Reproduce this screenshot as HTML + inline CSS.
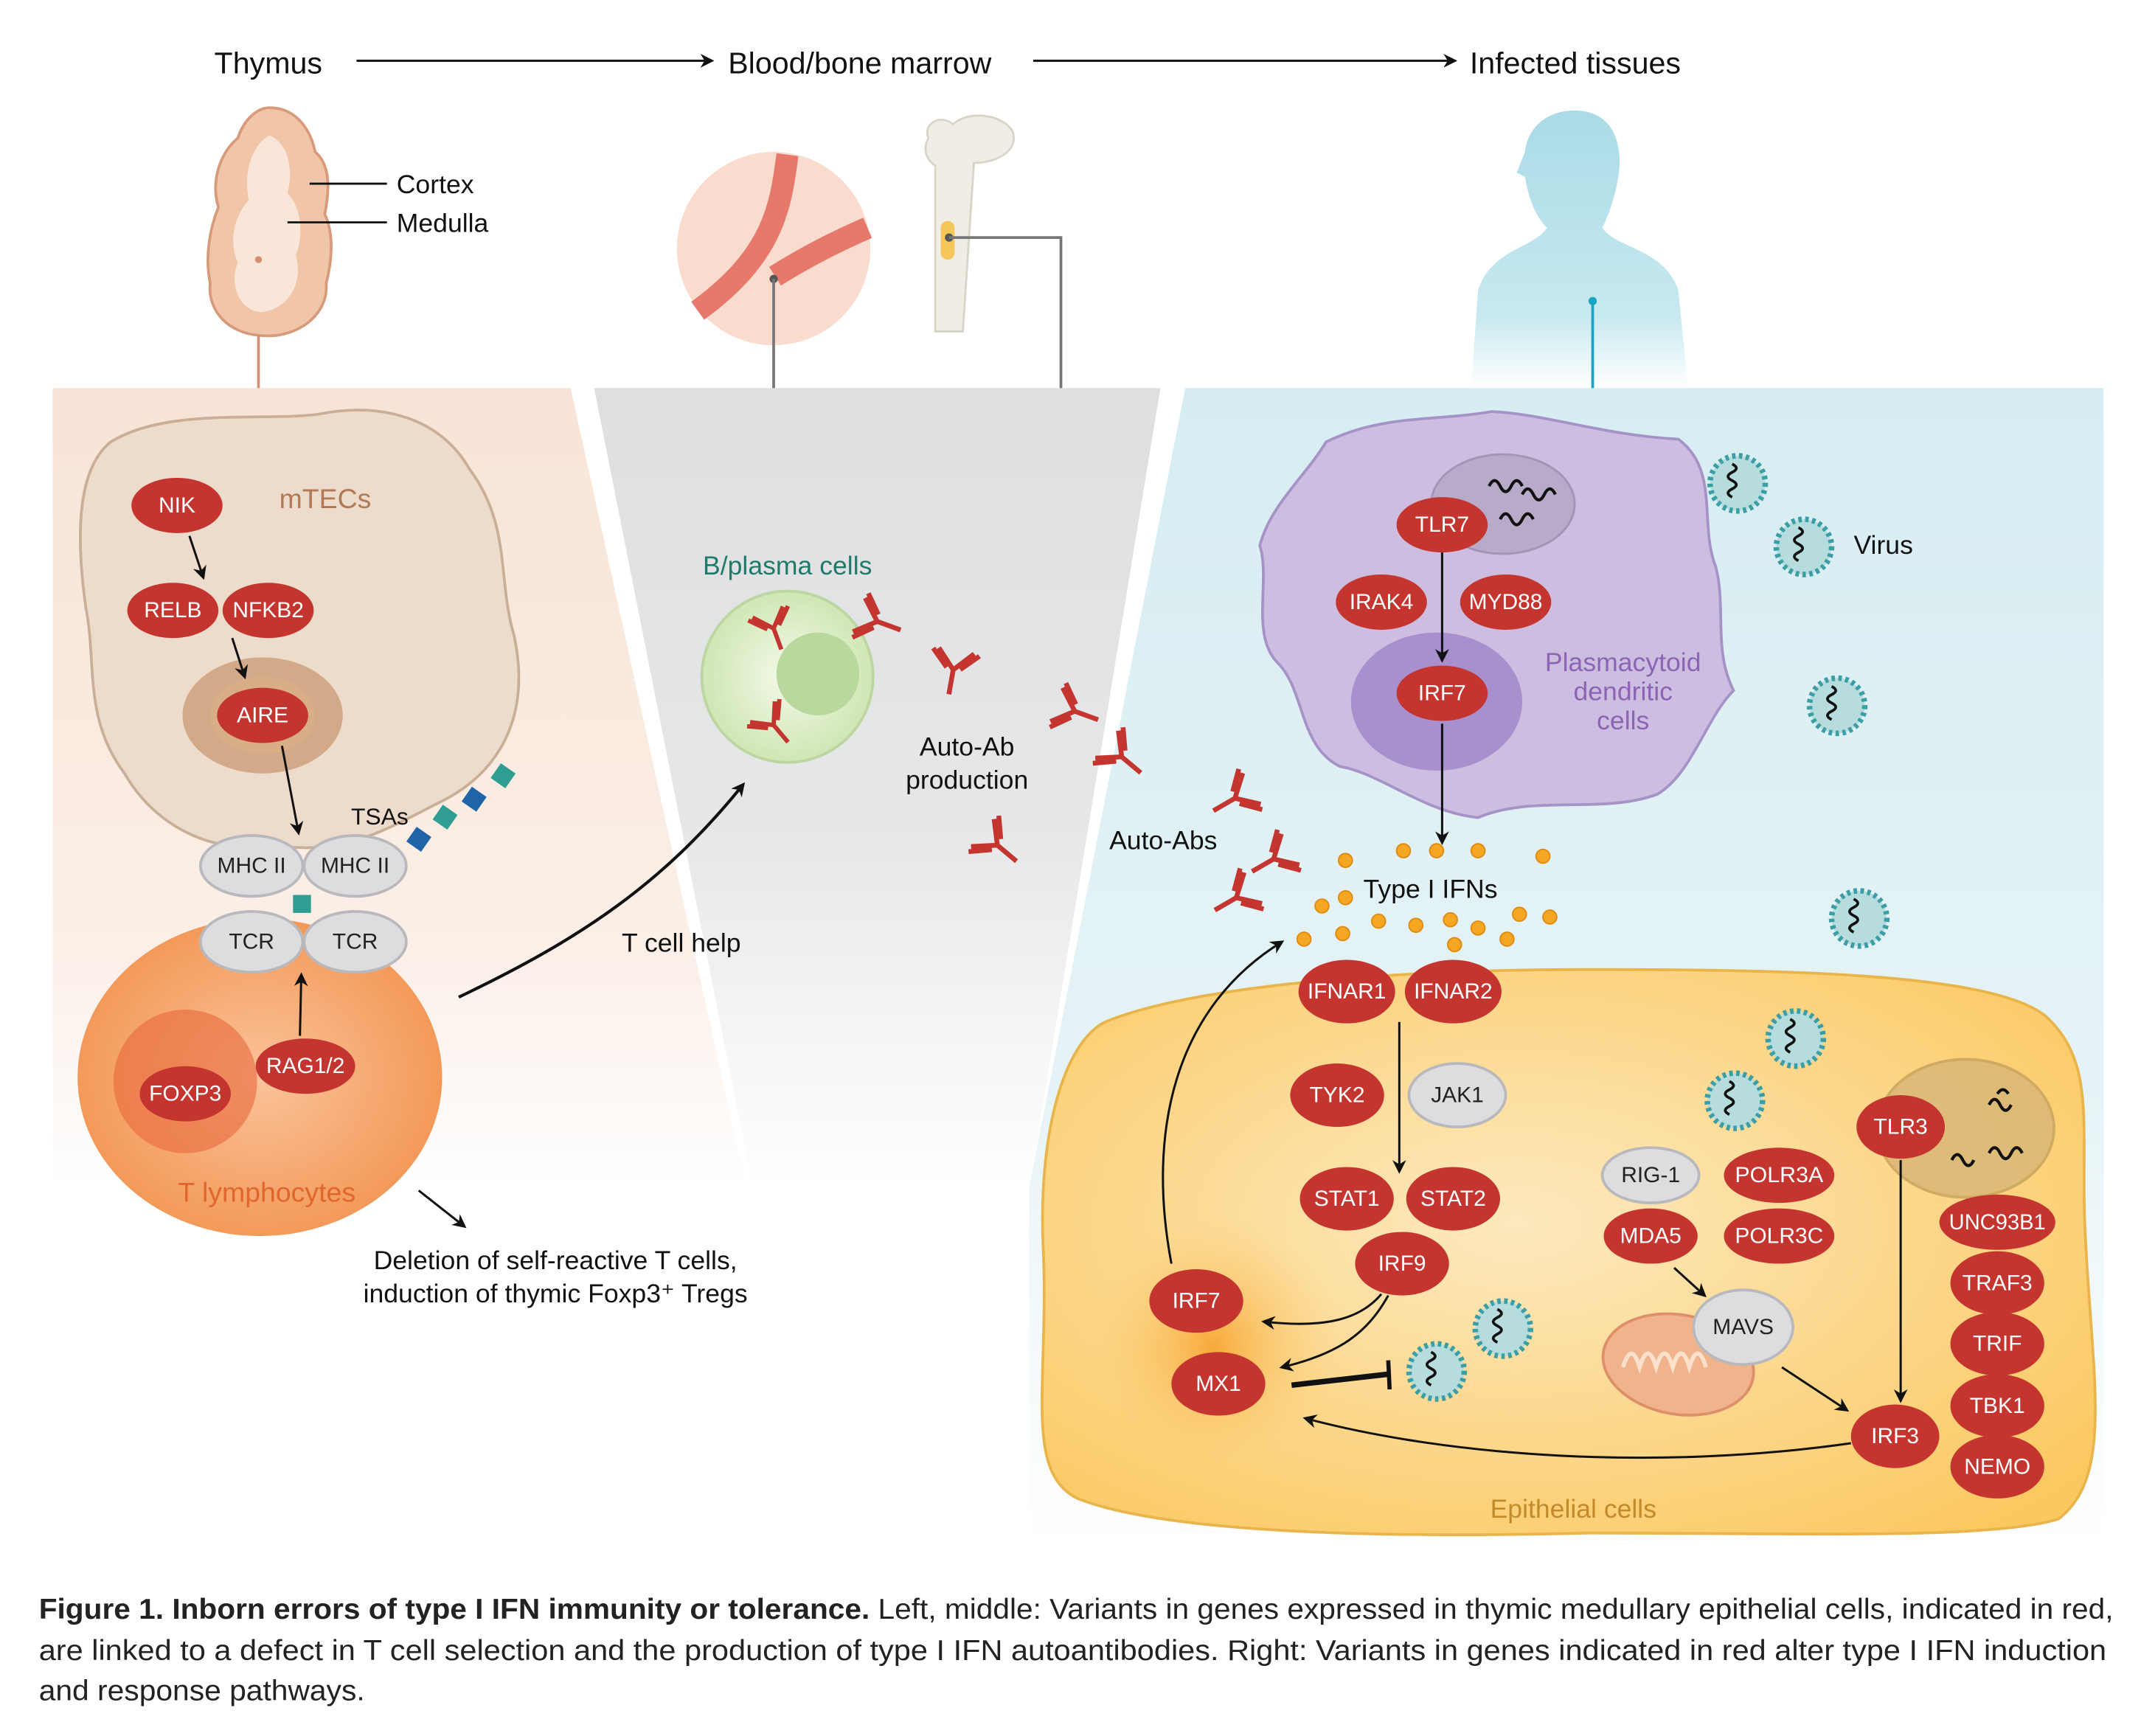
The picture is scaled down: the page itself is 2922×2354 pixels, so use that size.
<!DOCTYPE html>
<html><head><meta charset="utf-8"><style>
html,body{margin:0;padding:0;background:#fff}
svg{display:block}
text{font-family:"Liberation Sans",sans-serif}
.r{fill:#c4352f}
.g{fill:#dddde0;stroke:#b9b9bd;stroke-width:2}
.w{fill:#fff;font-size:16px;text-anchor:middle;dominant-baseline:central}
.k{fill:#222;font-size:16px;text-anchor:middle;dominant-baseline:central}
.ln{stroke:#111;stroke-width:1.6;fill:none}
</style></head><body>
<svg width="2922" height="2354" viewBox="0 0 1560 1257" xmlns="http://www.w3.org/2000/svg">
<defs>
<marker id="a" markerWidth="10" markerHeight="10" refX="8" refY="5" orient="auto" markerUnits="userSpaceOnUse"><path d="M0,0 L10,5 L0,10 L3,5z" fill="#111"/></marker>
<linearGradient id="lp" x1="0" y1="0" x2="0" y2="1"><stop offset="0" stop-color="#f7e4d6"/><stop offset="0.7" stop-color="#fbefe7"/><stop offset="1" stop-color="#fff"/></linearGradient>
<linearGradient id="mp" x1="0" y1="0" x2="0" y2="1"><stop offset="0" stop-color="#dedfe1"/><stop offset="0.55" stop-color="#e6e7e9"/><stop offset="1" stop-color="#fff"/></linearGradient>
<linearGradient id="rp" x1="0" y1="0" x2="0" y2="1"><stop offset="0" stop-color="#d6edf2"/><stop offset="0.6" stop-color="#e6f3f6"/><stop offset="1" stop-color="#fff"/></linearGradient>
<radialGradient id="ep" cx="0.45" cy="0.45" r="0.7"><stop offset="0" stop-color="#fde9bf"/><stop offset="1" stop-color="#fbc860"/></radialGradient>
<radialGradient id="tl" cx="0.5" cy="0.5" r="0.5"><stop offset="0" stop-color="#fbc39a"/><stop offset="1" stop-color="#f39a5a"/></radialGradient>
<radialGradient id="nu" cx="0.5" cy="0.5" r="0.5"><stop offset="0" stop-color="#f8a93a"/><stop offset="1" stop-color="#fbd27e" stop-opacity="0"/></radialGradient>
<radialGradient id="bc" cx="0.5" cy="0.5" r="0.5"><stop offset="0" stop-color="#f4fae9"/><stop offset="1" stop-color="#cfe6b4"/></radialGradient>
<linearGradient id="hb" x1="0" y1="0" x2="0" y2="1"><stop offset="0" stop-color="#a9dbe7"/><stop offset="0.75" stop-color="#c8e9f0"/><stop offset="1" stop-color="#fff"/></linearGradient>
<g id="ab"><path d="M0,0 L0,18 M0,0 L-13,-14 M0,0 L13,-14 M-5,-1 L-17,-13 M5,-1 L17,-13" stroke="#c4352f" stroke-width="3.5" fill="none"/></g>
<g id="vir"><circle r="20" fill="#b6dcdd" stroke="#3a9ea4" stroke-width="4" stroke-dasharray="2.5 2.5"/><path d="M-6,-10 q6,3 0,6 q-6,3 0,6 q6,3 0,6 q-6,3 0,6" stroke="#111" stroke-width="2" fill="none" transform="translate(2,-4)"/></g>
</defs>

<text x="155" y="53" font-size="22" fill="#111">Thymus</text>
<line x1="258" y1="44" x2="515" y2="44" class="ln" marker-end="url(#a)"/>
<text x="527" y="53" font-size="22" fill="#111">Blood/bone marrow</text>
<line x1="748" y1="44" x2="1053" y2="44" class="ln" marker-end="url(#a)"/>
<text x="1064" y="53" font-size="22" fill="#111">Infected tissues</text>

<path d="M38,281 L413,281 L540,860 L38,860 Z" fill="url(#lp)"/>
<path d="M430,281 L840,281 L745,860 L545,860 Z" fill="url(#mp)"/>
<path d="M858,281 L1523,281 L1523,1120 L745,1120 L745,860 Z" fill="url(#rp)"/>

<path d="M195,78 C215,78 225,95 228,110 C240,120 238,140 235,155 C242,170 240,190 236,205 C238,228 215,245 190,243 C165,242 150,225 152,205 C148,185 152,165 158,150 C152,130 160,110 172,100 C176,88 185,78 195,78Z" fill="#f1c6a8" stroke="#d79a7a" stroke-width="2"/>
<path d="M195,98 C210,105 212,125 208,140 C218,150 220,170 214,185 C220,205 208,225 188,226 C172,224 166,205 172,190 C165,175 170,155 180,145 C176,125 182,105 195,98Z" fill="#fae6d8"/>
<line x1="224" y1="133" x2="280" y2="133" stroke="#111" stroke-width="1.5"/>
<line x1="208" y1="161" x2="280" y2="161" stroke="#111" stroke-width="1.5"/>
<text x="287" y="140" font-size="19" fill="#111">Cortex</text>
<text x="287" y="168" font-size="19" fill="#111">Medulla</text>
<circle cx="187" cy="188" r="2.5" fill="#d49070"/>
<line x1="187" y1="243" x2="187" y2="281" stroke="#d49070" stroke-width="2"/>

<circle cx="560" cy="180" r="70" fill="#f9dccd"/>
<path d="M570,112 C565,150 560,185 505,225 M561,200 C585,185 605,175 628,165" stroke="#e6796c" stroke-width="16" fill="none"/>
<circle cx="560" cy="202" r="3" fill="#555"/>
<line x1="560" y1="202" x2="560" y2="281" stroke="#777" stroke-width="2"/>
<path d="M672,100 C668,90 680,82 690,90 C700,80 725,82 733,95 C738,110 720,118 705,118 L697,240 L677,240 L677,120 C670,115 668,108 672,100Z" fill="#efede4" stroke="#d8d5c8" stroke-width="1.5"/>
<rect x="681" y="160" width="10" height="28" rx="5" fill="#f5c65a"/>
<circle cx="687" cy="172" r="3" fill="#555"/>
<path d="M687,172 L768,172 L768,281" stroke="#777" stroke-width="2" fill="none"/>
<path d="M1140,80 C1165,80 1175,100 1172,125 C1170,140 1165,155 1160,165 C1170,180 1205,180 1215,210 L1222,280 L1065,280 L1070,210 C1080,180 1110,180 1120,165 C1110,155 1106,140 1104,128 L1098,125 L1104,110 C1106,92 1120,80 1140,80Z" fill="url(#hb)"/>
<circle cx="1153" cy="218" r="3" fill="#1aa6c0"/>
<line x1="1153" y1="218" x2="1153" y2="281" stroke="#1aa6c0" stroke-width="2"/>

<path d="M80,320 C120,295 190,305 230,300 C280,290 320,305 340,340 C370,380 360,420 372,460 C385,520 360,560 320,580 C280,600 250,620 200,612 C150,620 110,595 90,560 C60,520 70,480 62,440 C55,390 55,340 80,320Z" fill="#eddccb" stroke="#c9af98" stroke-width="2"/>
<ellipse cx="190" cy="518" rx="58" ry="42" fill="#c89a73" opacity="0.75"/>
<ellipse cx="190" cy="518" rx="38" ry="28" fill="#d8ae89"/>
<text x="202" y="368" font-size="20" fill="#b07a56">mTECs</text>
<ellipse cx="128" cy="366" rx="33" ry="20" class="r"/><text x="128" y="366" class="w">NIK</text>
<ellipse cx="125" cy="442" rx="33" ry="20" class="r"/><text x="125" y="442" class="w">RELB</text>
<ellipse cx="194" cy="442" rx="33" ry="20" class="r"/><text x="194" y="442" class="w">NFKB2</text>
<ellipse cx="190" cy="518" rx="33" ry="20" class="r"/><text x="190" y="518" class="w">AIRE</text>
<line x1="137" y1="388" x2="147" y2="418" class="ln" marker-end="url(#a)"/>
<line x1="168" y1="462" x2="177" y2="490" class="ln" marker-end="url(#a)"/>
<line x1="204" y1="540" x2="216" y2="603" class="ln" marker-end="url(#a)"/>
<text x="254" y="597" font-size="17" fill="#111">TSAs</text>
<g fill="#1f63a8"><rect x="297" y="601" width="13" height="13" transform="rotate(35 303 607)"/><rect x="337" y="572" width="13" height="13" transform="rotate(35 343 578)"/></g>
<g fill="#2e9e93"><rect x="316" y="585" width="13" height="13" transform="rotate(35 322 591)"/><rect x="358" y="555" width="13" height="13" transform="rotate(35 364 561)"/></g>

<ellipse cx="188" cy="780" rx="132" ry="115" fill="url(#tl)"/>
<circle cx="134" cy="783" r="52" fill="#e8683a" opacity="0.6"/>
<ellipse cx="182" cy="627" rx="37" ry="22" class="g"/><text x="182" y="627" class="k">MHC II</text>
<ellipse cx="257" cy="627" rx="37" ry="22" class="g"/><text x="257" y="627" class="k">MHC II</text>
<rect x="212" y="648" width="13" height="13" fill="#2e9e93"/>
<ellipse cx="182" cy="682" rx="37" ry="22" class="g"/><text x="182" y="682" class="k">TCR</text>
<ellipse cx="257" cy="682" rx="37" ry="22" class="g"/><text x="257" y="682" class="k">TCR</text>
<ellipse cx="134" cy="792" rx="33" ry="20" class="r"/><text x="134" y="792" class="w">FOXP3</text>
<ellipse cx="221" cy="772" rx="36" ry="20" class="r"/><text x="221" y="772" class="w">RAG1/2</text>
<line x1="217" y1="750" x2="218" y2="706" class="ln" marker-end="url(#a)"/>
<text x="193" y="870" font-size="20" fill="#e0662c" text-anchor="middle">T lymphocytes</text>
<line x1="303" y1="862" x2="336" y2="888" class="ln" marker-end="url(#a)"/>
<text x="402" y="919" font-size="19" fill="#111" text-anchor="middle">Deletion of self-reactive T cells,</text>
<text x="402" y="943" font-size="19" fill="#111" text-anchor="middle">induction of thymic Foxp3⁺ Tregs</text>
<path d="M332,722 C420,680 480,640 538,568" stroke="#111" stroke-width="2.2" fill="none" marker-end="url(#a)"/>
<text x="450" y="689" font-size="19" fill="#111">T cell help</text>

<text x="570" y="416" font-size="19" fill="#1f7a6a" text-anchor="middle">B/plasma cells</text>
<circle cx="570" cy="490" r="62" fill="url(#bc)" stroke="#bcd6a0" stroke-width="2"/>
<circle cx="592" cy="488" r="30" fill="#b9d89d"/>
<use href="#ab" transform="translate(560,455) rotate(-20) scale(0.9)"/>
<use href="#ab" transform="translate(560,525) rotate(-40) scale(0.9)"/>
<use href="#ab" transform="translate(635,450) rotate(-70)"/>
<use href="#ab" transform="translate(690,485) rotate(10)"/>
<use href="#ab" transform="translate(778,515) rotate(-70)"/>
<use href="#ab" transform="translate(812,548) rotate(-50)"/>
<use href="#ab" transform="translate(722,612) rotate(-50)"/>
<use href="#ab" transform="translate(894,578) rotate(60)"/>
<use href="#ab" transform="translate(922,622) rotate(60)"/>
<use href="#ab" transform="translate(895,650) rotate(60)"/>
<text x="700" y="547" font-size="19" fill="#111" text-anchor="middle">Auto-Ab</text>
<text x="700" y="571" font-size="19" fill="#111" text-anchor="middle">production</text>
<text x="803" y="615" font-size="19" fill="#111">Auto-Abs</text>

<path d="M960,320 C1000,300 1040,305 1080,298 C1120,300 1160,315 1215,318 C1245,340 1230,380 1242,410 C1250,440 1240,470 1255,500 C1235,520 1225,560 1200,575 C1160,590 1110,575 1070,592 C1030,588 1000,560 970,555 C940,540 945,500 925,480 C905,460 920,420 912,395 C920,365 945,345 960,320Z" fill="#cdbde0" stroke="#a592c7" stroke-width="2"/>
<ellipse cx="1088" cy="365" rx="52" ry="36" fill="#b8aac9" stroke="#a095b5" stroke-width="1.5"/>
<ellipse cx="1040" cy="508" rx="62" ry="50" fill="#a88fce"/>
<path d="M1078,352 q4,-8 8,0 q4,8 8,0 q4,-8 8,0 M1102,358 q4,-8 8,0 q4,8 8,0 q4,-8 8,0 M1086,376 q4,-8 8,0 q4,8 8,0 q4,-8 8,0" stroke="#111" stroke-width="2.2" fill="none"/>
<ellipse cx="1044" cy="380" rx="33" ry="20" class="r"/><text x="1044" y="380" class="w">TLR7</text>
<ellipse cx="1000" cy="436" rx="33" ry="20" class="r"/><text x="1000" y="436" class="w">IRAK4</text>
<ellipse cx="1090" cy="436" rx="33" ry="20" class="r"/><text x="1090" y="436" class="w">MYD88</text>
<ellipse cx="1044" cy="502" rx="33" ry="20" class="r"/><text x="1044" y="502" class="w">IRF7</text>
<line x1="1044" y1="400" x2="1044" y2="478" class="ln" marker-end="url(#a)"/>
<line x1="1044" y1="524" x2="1044" y2="610" class="ln" marker-end="url(#a)"/>
<text x="1175" y="486" font-size="19" fill="#8c64b4" text-anchor="middle">Plasmacytoid</text>
<text x="1175" y="507" font-size="19" fill="#8c64b4" text-anchor="middle">dendritic</text>
<text x="1175" y="528" font-size="19" fill="#8c64b4" text-anchor="middle">cells</text>
<text x="1342" y="401" font-size="19" fill="#111">Virus</text>

<g fill="#f5a623" stroke="#e08a10" stroke-width="1">
<circle cx="1016" cy="616" r="5"/><circle cx="1040" cy="616" r="5"/><circle cx="1070" cy="616" r="5"/><circle cx="1117" cy="620" r="5"/><circle cx="974" cy="623" r="5"/>
<circle cx="957" cy="656" r="5"/><circle cx="974" cy="650" r="5"/><circle cx="998" cy="667" r="5"/><circle cx="1025" cy="670" r="5"/><circle cx="1050" cy="666" r="5"/><circle cx="1070" cy="672" r="5"/><circle cx="1100" cy="662" r="5"/><circle cx="1122" cy="664" r="5"/><circle cx="1091" cy="680" r="5"/><circle cx="1053" cy="684" r="5"/><circle cx="944" cy="680" r="5"/><circle cx="972" cy="676" r="5"/>
</g>
<text x="987" y="650" font-size="19" fill="#111">Type I IFNs</text>

<path d="M800,740 C860,715 1000,702 1150,702 C1300,702 1440,705 1480,735 C1520,770 1505,820 1510,900 C1515,1000 1530,1070 1490,1100 C1440,1115 1300,1110 1150,1110 C950,1115 830,1105 780,1085 C740,1065 760,1000 755,900 C752,820 770,755 800,740Z" fill="url(#ep)" stroke="#e9b44a" stroke-width="2"/>
<ellipse cx="878" cy="975" rx="92" ry="95" fill="url(#nu)"/>
<ellipse cx="1423" cy="817" rx="64" ry="50" fill="#d9b777" stroke="#c9a45d" stroke-width="2" opacity="0.85"/>
<path d="M1440,800 q4,-8 8,0 q4,8 8,0 M1446,792 q4,-6 8,0 M1413,840 q4,-8 8,0 q4,8 8,0 M1440,835 q4,-8 8,0 q4,8 8,0 q4,-8 8,0" stroke="#111" stroke-width="2.2" fill="none"/>
<ellipse cx="1215" cy="988" rx="55" ry="36" fill="#f1b38c" stroke="#dd8f6a" stroke-width="2" transform="rotate(10 1215 988)"/>
<path d="M1175,990 q6,-20 12,0 q6,-20 12,0 q6,-20 12,0 q6,-20 12,0 q6,-20 12,0" stroke="#fbe0cc" stroke-width="3" fill="none"/>

<ellipse cx="975" cy="718" rx="35" ry="23" class="r"/><text x="975" y="718" class="w">IFNAR1</text>
<ellipse cx="1052" cy="718" rx="35" ry="23" class="r"/><text x="1052" y="718" class="w">IFNAR2</text>
<ellipse cx="968" cy="793" rx="34" ry="23" class="r"/><text x="968" y="793" class="w">TYK2</text>
<ellipse cx="1055" cy="793" rx="35" ry="23" class="g"/><text x="1055" y="793" class="k">JAK1</text>
<ellipse cx="975" cy="868" rx="34" ry="23" class="r"/><text x="975" y="868" class="w">STAT1</text>
<ellipse cx="1052" cy="868" rx="34" ry="23" class="r"/><text x="1052" y="868" class="w">STAT2</text>
<ellipse cx="1015" cy="915" rx="34" ry="23" class="r"/><text x="1015" y="915" class="w">IRF9</text>
<ellipse cx="866" cy="942" rx="34" ry="23" class="r"/><text x="866" y="942" class="w">IRF7</text>
<ellipse cx="882" cy="1002" rx="34" ry="23" class="r"/><text x="882" y="1002" class="w">MX1</text>
<ellipse cx="1195" cy="851" rx="35" ry="20" class="g"/><text x="1195" y="851" class="k">RIG-1</text>
<ellipse cx="1288" cy="851" rx="40" ry="20" class="r"/><text x="1288" y="851" class="w" textLength="64" lengthAdjust="spacingAndGlyphs">POLR3A</text>
<ellipse cx="1195" cy="895" rx="34" ry="20" class="r"/><text x="1195" y="895" class="w">MDA5</text>
<ellipse cx="1288" cy="895" rx="40" ry="20" class="r"/><text x="1288" y="895" class="w" textLength="64" lengthAdjust="spacingAndGlyphs">POLR3C</text>
<ellipse cx="1262" cy="961" rx="36" ry="27" class="g"/><text x="1262" y="961" class="k">MAVS</text>
<ellipse cx="1376" cy="816" rx="32" ry="23" class="r"/><text x="1376" y="816" class="w">TLR3</text>
<ellipse cx="1446" cy="885" rx="42" ry="20" class="r"/><text x="1446" y="885" class="w" textLength="70" lengthAdjust="spacingAndGlyphs">UNC93B1</text>
<ellipse cx="1446" cy="929" rx="34" ry="23" class="r"/><text x="1446" y="929" class="w">TRAF3</text>
<ellipse cx="1446" cy="973" rx="34" ry="23" class="r"/><text x="1446" y="973" class="w">TRIF</text>
<ellipse cx="1446" cy="1018" rx="34" ry="23" class="r"/><text x="1446" y="1018" class="w">TBK1</text>
<ellipse cx="1446" cy="1062" rx="34" ry="23" class="r"/><text x="1446" y="1062" class="w">NEMO</text>
<ellipse cx="1372" cy="1040" rx="32" ry="23" class="r"/><text x="1372" y="1040" class="w">IRF3</text>

<line x1="1013" y1="740" x2="1013" y2="848" class="ln" marker-end="url(#a)"/>
<path d="M1000,937 C985,955 960,962 915,957" class="ln" marker-end="url(#a)"/>
<path d="M1005,938 C990,965 970,980 928,990" class="ln" marker-end="url(#a)"/>
<path d="M848,915 C830,820 850,730 928,682" class="ln" marker-end="url(#a)"/>
<line x1="935" y1="1003" x2="1005" y2="995" stroke="#111" stroke-width="4"/>
<line x1="1005" y1="985" x2="1006" y2="1006" stroke="#111" stroke-width="3"/>
<line x1="1212" y1="918" x2="1234" y2="938" class="ln" marker-end="url(#a)"/>
<line x1="1290" y1="990" x2="1337" y2="1021" class="ln" marker-end="url(#a)"/>
<line x1="1376" y1="840" x2="1376" y2="1014" class="ln" marker-end="url(#a)"/>
<path d="M1340,1045 C1200,1065 1050,1055 945,1027" class="ln" marker-end="url(#a)"/>
<text x="1139" y="1099" font-size="19" fill="#c48a2a" text-anchor="middle">Epithelial cells</text>

<use href="#vir" transform="translate(1258,350)"/>
<use href="#vir" transform="translate(1306,396)"/>
<use href="#vir" transform="translate(1330,511)"/>
<use href="#vir" transform="translate(1346,665)"/>
<use href="#vir" transform="translate(1300,752)"/>
<use href="#vir" transform="translate(1256,797)"/>
<use href="#vir" transform="translate(1088,962)"/>
<use href="#vir" transform="translate(1040,993)"/>

<text x="28" y="1172" font-size="21" fill="#222" font-family="Liberation Sans Narrow, Liberation Sans, sans-serif" textLength="1502" lengthAdjust="spacingAndGlyphs"><tspan font-weight="bold">Figure 1. Inborn errors of type I IFN immunity or tolerance.</tspan> Left, middle: Variants in genes expressed in thymic medullary epithelial cells, indicated in red,</text>
<text x="28" y="1202" font-size="21" fill="#222" font-family="Liberation Sans Narrow, Liberation Sans, sans-serif" textLength="1497" lengthAdjust="spacingAndGlyphs">are linked to a defect in T cell selection and the production of type I IFN autoantibodies. Right: Variants in genes indicated in red alter type I IFN induction</text>
<text x="28" y="1231" font-size="21" fill="#222" font-family="Liberation Sans Narrow, Liberation Sans, sans-serif" textLength="236" lengthAdjust="spacingAndGlyphs">and response pathways.</text>
</svg>
</body></html>
